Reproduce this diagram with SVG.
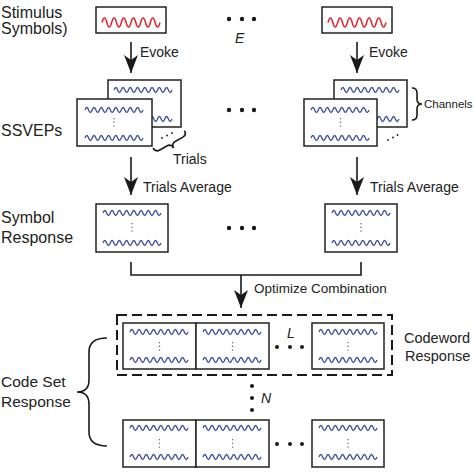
<svg xmlns="http://www.w3.org/2000/svg" xmlns:xlink="http://www.w3.org/1999/xlink" width="474" height="474" viewBox="0 0 474 474">
<style>
.box{fill:#fff;stroke:#222;stroke-width:1.5}
.bw{fill:none;stroke:#3d4c9c;stroke-width:1.3}
.rw{fill:none;stroke:#e0242a;stroke-width:1.5}
.vd{fill:none;stroke:#666;stroke-width:1.2;stroke-dasharray:1.3 2.4}
.ln{fill:none;stroke:#1a1a1a;stroke-width:1.6}
.br{fill:none;stroke:#1a1a1a;stroke-width:1.6}
.t{font-family:"Liberation Sans",Arial,sans-serif;fill:#222}
.lab{font-size:16px}
.sm{font-size:14px}
.it{font-style:italic}
.dot{fill:#1a1a1a}
</style>
<defs>
<path id="bwave" class="bw" d="M0,0 Q1.8125,-5 3.625,0 T7.25,0 T10.875,0 T14.5,0 T18.125,0 T21.75,0 T25.375,0 T29,0 T32.625,0 T36.25,0 T39.875,0 T43.5,0 T47.125,0 T50.75,0 T54.375,0 T58,0"/>
<path id="rwave" class="rw" d="M0,0 Q2.4167,-9 4.833,0 T9.667,0 T14.5,0 T19.333,0 T24.167,0 T29,0 T33.833,0 T38.667,0 T43.5,0 T48.333,0 T53.167,0 T58,0"/>
<path id="vdots" class="vd" d="M0,0 V10"/>
<marker id="ah" viewBox="0 -8 19 16" refX="18" refY="0" markerWidth="19" markerHeight="16" markerUnits="userSpaceOnUse" orient="auto">
<path d="M0,-7 L18,0 L0,7 L5,0 z" fill="#1a1a1a"/>
</marker>
</defs>

<g id="row-labels" class="t lab">
<text x="1" y="17.5">Stimulus</text>
<text x="1" y="34">Symbols)</text>
<text x="1" y="136">SSVEPs</text>
<text x="1" y="223">Symbol</text>
<text x="1" y="243">Response</text>
<text x="1" y="387" font-size="15.5">Code Set</text>
<text x="1" y="407" font-size="15.5">Response</text>
</g>

<g id="stimulus-1">
<rect class="box" x="96" y="7" width="70" height="26"/>
<use xlink:href="#rwave" x="102" y="22.5"/>
</g>
<g id="stimulus-E">
<rect class="box" x="322" y="7" width="70" height="26"/>
<use xlink:href="#rwave" x="328" y="22.5"/>
</g>

<g id="ssvep-1">
<rect class="box" x="108" y="80" width="73" height="47"/>
<use xlink:href="#bwave" x="114" y="90"/>
<use xlink:href="#bwave" x="114" y="119"/>
<rect class="box" x="77" y="99" width="75" height="47"/>
<use xlink:href="#bwave" x="85" y="110"/>
<use xlink:href="#vdots" x="114" y="118"/>
<use xlink:href="#bwave" x="85" y="138"/>
<circle class="dot" cx="162" cy="138" r="0.9"/>
<circle class="dot" cx="167" cy="135.5" r="0.9"/>
<circle class="dot" cx="172" cy="133" r="0.9"/>
<path class="br" transform="translate(153,148) rotate(-29)" d="M0,0 q0,5 5,5 h8 q5,0 5,5 q0,-5 5,-5 h8 q5,0 5,-5"/>
<text class="t sm" x="173" y="164">Trials</text>
</g>

<g id="ssvep-E">
<rect class="box" x="334" y="80" width="73" height="47"/>
<use xlink:href="#bwave" x="341" y="90"/>
<use xlink:href="#bwave" x="341" y="119"/>
<rect class="box" x="304" y="99" width="73" height="47"/>
<use xlink:href="#bwave" x="311" y="110"/>
<use xlink:href="#vdots" x="340.5" y="118"/>
<use xlink:href="#bwave" x="311" y="138"/>
<circle class="dot" cx="388" cy="140" r="0.9"/>
<circle class="dot" cx="393" cy="137.5" r="0.9"/>
<circle class="dot" cx="397.5" cy="135" r="0.9"/>
<path class="br" d="M412,88 q5,0 5,5 v6 q0,5 5,5 q-5,0 -5,5 v6 q0,5 -5,5"/>
<text class="t" font-size="11.5" x="424" y="108">Channels</text>
</g>

<g id="symbol-response-1">
<rect class="box" x="96" y="204" width="72" height="48"/>
<use xlink:href="#bwave" x="103" y="213"/>
<use xlink:href="#vdots" x="132" y="223"/>
<use xlink:href="#bwave" x="103" y="243"/>
</g>
<g id="symbol-response-E">
<rect class="box" x="325" y="204" width="72" height="48"/>
<use xlink:href="#bwave" x="332" y="213"/>
<use xlink:href="#vdots" x="361" y="223"/>
<use xlink:href="#bwave" x="332" y="243"/>
</g>

<g id="ellipses">
<circle class="dot" cx="229" cy="19" r="2.2"/><circle class="dot" cx="242" cy="19" r="2.2"/><circle class="dot" cx="254" cy="19" r="2.2"/>
<text class="t sm it" x="235" y="43">E</text>
<circle class="dot" cx="229" cy="110" r="2.2"/><circle class="dot" cx="242" cy="110" r="2.2"/><circle class="dot" cx="254" cy="110" r="2.2"/>
<circle class="dot" cx="229" cy="228" r="2.2"/><circle class="dot" cx="242" cy="228" r="2.2"/><circle class="dot" cx="254" cy="228" r="2.2"/>
</g>

<g id="codeword-response">
<rect x="117" y="315" width="275" height="60" fill="none" stroke="#1a1a1a" stroke-width="2" stroke-dasharray="10 5"/>
<rect class="box" x="123" y="323" width="73" height="46"/>
<rect class="box" x="196" y="323" width="73" height="46"/>
<rect class="box" x="312" y="323" width="72" height="46"/>
<use xlink:href="#bwave" x="130" y="332"/><use xlink:href="#vdots" x="159.5" y="342"/><use xlink:href="#bwave" x="130" y="360"/>
<use xlink:href="#bwave" x="203" y="332"/><use xlink:href="#vdots" x="232.5" y="342"/><use xlink:href="#bwave" x="203" y="360"/>
<use xlink:href="#bwave" x="319" y="332"/><use xlink:href="#vdots" x="348" y="342"/><use xlink:href="#bwave" x="319" y="360"/>
<circle class="dot" cx="277" cy="347" r="2"/><circle class="dot" cx="290" cy="347" r="2"/><circle class="dot" cx="302" cy="347" r="2"/>
<text class="t sm it" x="287" y="338">L</text>
<text class="t" font-size="14.5" x="404" y="343">Codeword</text>
<text class="t" font-size="14.5" x="405" y="361">Response</text>
</g>

<g id="codeword-N">
<rect class="box" x="123" y="420" width="73" height="47"/>
<rect class="box" x="196" y="420" width="73" height="47"/>
<rect class="box" x="312" y="420" width="72" height="47"/>
<use xlink:href="#bwave" x="130" y="428"/><use xlink:href="#vdots" x="159.5" y="439"/><use xlink:href="#bwave" x="130" y="457"/>
<use xlink:href="#bwave" x="203" y="428"/><use xlink:href="#vdots" x="232.5" y="439"/><use xlink:href="#bwave" x="203" y="457"/>
<use xlink:href="#bwave" x="319" y="428"/><use xlink:href="#vdots" x="348" y="439"/><use xlink:href="#bwave" x="319" y="457"/>
<circle class="dot" cx="277" cy="444" r="2"/><circle class="dot" cx="290" cy="444" r="2"/><circle class="dot" cx="302" cy="444" r="2"/>
</g>

<g id="code-set-marks">
<circle class="dot" cx="252" cy="386" r="2"/><circle class="dot" cx="252" cy="398" r="2"/><circle class="dot" cx="252" cy="410" r="2"/>
<text class="t sm it" x="261" y="403">N</text>
<path class="br" d="M107,338 q-18,0 -18,14 v28 q0,12 -12,12 q12,0 12,12 v28 q0,14 18,14"/>
</g>

<g id="connectors">
<line class="ln" x1="131" y1="42" x2="131" y2="73" marker-end="url(#ah)"/>
<line class="ln" x1="357" y1="42" x2="357" y2="73" marker-end="url(#ah)"/>
<line class="ln" x1="131" y1="157" x2="131" y2="195" marker-end="url(#ah)"/>
<line class="ln" x1="357" y1="157" x2="357" y2="195" marker-end="url(#ah)"/>
<path class="ln" d="M131,262 V275 H361 V262"/>
<line class="ln" x1="241" y1="275" x2="241" y2="308" marker-end="url(#ah)"/>
<text class="t sm" x="140" y="57">Evoke</text>
<text class="t sm" x="369" y="57">Evoke</text>
<text class="t sm" x="143" y="192">Trials Average</text>
<text class="t sm" x="370" y="192">Trials Average</text>
<text class="t" font-size="13.5" x="254" y="293">Optimize Combination</text>
</g>
</svg>
